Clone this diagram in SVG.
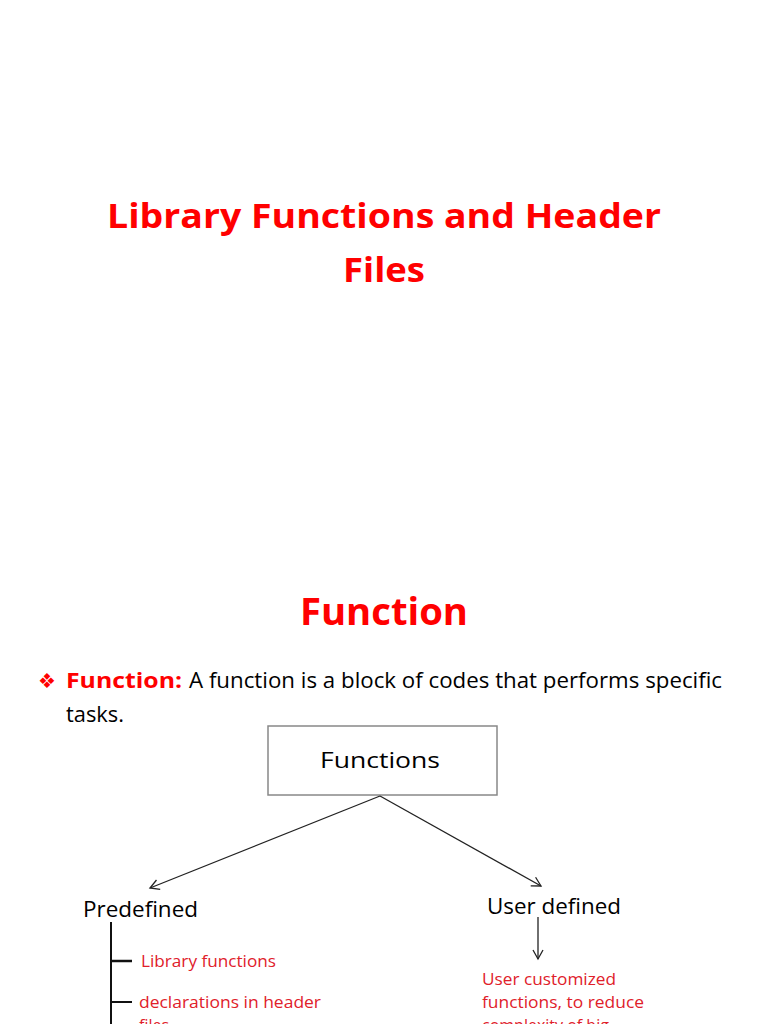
<svg xmlns="http://www.w3.org/2000/svg" width="768" height="1024" viewBox="0 0 768 1024">
<style>
.t{font-family:"Open Sans","Liberation Sans",sans-serif}
.red{fill:#f00}
.dr{fill:#e0202a}
.ln{stroke:#222;stroke-width:1.3;fill:none}
</style>
<defs><marker id="a" markerWidth="12" markerHeight="12" refX="10" refY="6" orient="auto" markerUnits="userSpaceOnUse"><path d="M1,1 L10,6 L1,11" fill="none" stroke="#222" stroke-width="1.3"/></marker></defs>
<rect width="768" height="1024" fill="#fff"/>
<text class="t red" x="384" y="228" text-anchor="middle" font-size="34" font-weight="bold" textLength="554" lengthAdjust="spacingAndGlyphs">Library Functions and Header</text>
<text class="t red" x="384" y="282" text-anchor="middle" font-size="34" font-weight="bold" textLength="82" lengthAdjust="spacingAndGlyphs">Files</text>
<text class="t red" x="384" y="625" text-anchor="middle" font-size="38" font-weight="bold" textLength="168" lengthAdjust="spacingAndGlyphs">Function</text>
<text class="t red" x="38" y="688" font-size="20">❖</text>
<text class="t red" x="66" y="688" font-size="22" font-weight="bold" textLength="116" lengthAdjust="spacingAndGlyphs">Function:</text>
<text class="t" x="189" y="688" font-size="21" textLength="533" lengthAdjust="spacingAndGlyphs">A function is a block of codes that performs specific</text>
<text class="t" x="66" y="722" font-size="21" textLength="58" lengthAdjust="spacingAndGlyphs">tasks.</text>
<g id="functions"><rect x="268" y="726" width="229" height="69" fill="#fff" stroke="#888" stroke-width="1.5"/>
<text class="t" x="380" y="768" text-anchor="middle" font-size="22" textLength="120" lengthAdjust="spacingAndGlyphs">Functions</text></g>
<g id="predefined"><text class="t" x="83" y="917" font-size="21" textLength="115" lengthAdjust="spacingAndGlyphs">Predefined</text></g>
<g id="userdefined"><text class="t" x="487" y="914" font-size="21" textLength="134" lengthAdjust="spacingAndGlyphs">User defined</text></g>
<g id="lib"><text class="t dr" x="141" y="967" font-size="16" textLength="135" lengthAdjust="spacingAndGlyphs">Library functions</text></g>
<g id="decl"><text class="t dr" x="139" y="1008" font-size="16" textLength="182" lengthAdjust="spacingAndGlyphs">declarations in header</text>
<text class="t dr" x="139" y="1031" font-size="16">files</text></g>
<g id="usercust"><text class="t dr" x="482" y="985" font-size="16" textLength="134" lengthAdjust="spacingAndGlyphs">User customized</text>
<text class="t dr" x="482" y="1008" font-size="16" textLength="162" lengthAdjust="spacingAndGlyphs">functions, to reduce</text>
<text class="t dr" x="482" y="1031" font-size="16">complexity of big</text></g>
<g id="connectors">
<line class="ln" x1="380" y1="796" x2="150" y2="888" marker-end="url(#a)"/>
<line class="ln" x1="380" y1="796" x2="541" y2="886" marker-end="url(#a)"/>
<line class="ln" x1="538" y1="917" x2="538" y2="959" marker-end="url(#a)"/>
<line x1="111" y1="922" x2="111" y2="1024" stroke="#111" stroke-width="2"/>
<line x1="111" y1="961" x2="132" y2="961" stroke="#111" stroke-width="2.5"/>
<line x1="111" y1="1002" x2="132" y2="1002" stroke="#111" stroke-width="2"/>
</g>
</svg>
